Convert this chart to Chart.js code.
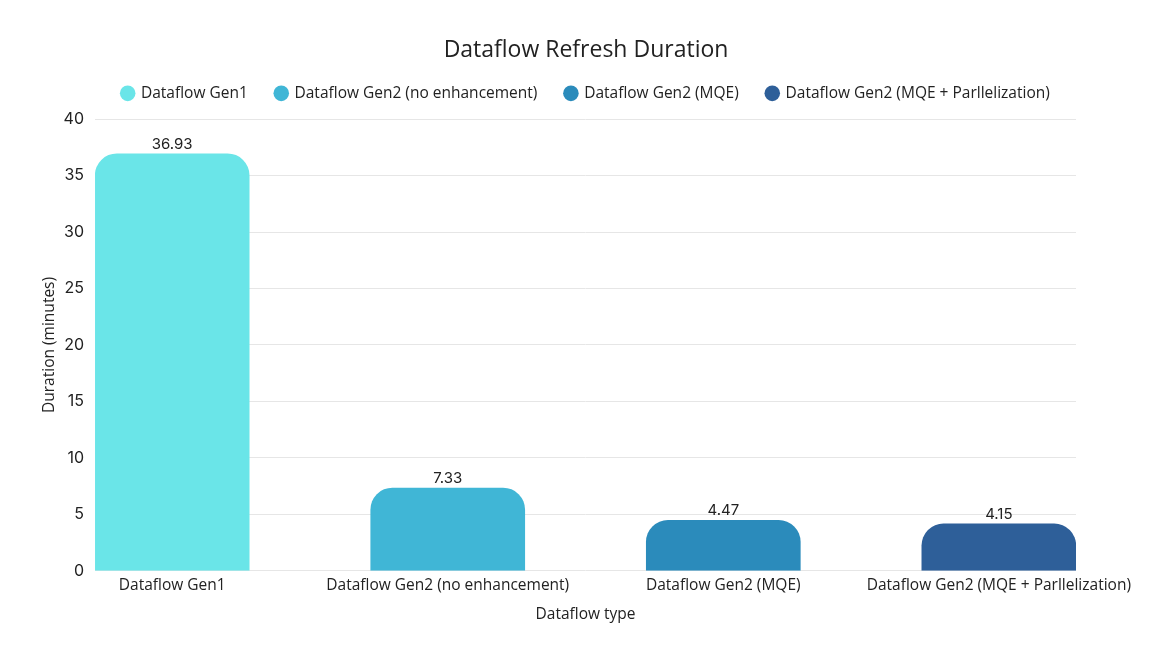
<!DOCTYPE html>
<html>
<head>
<meta charset="utf-8">
<script src="https://cdn.jsdelivr.net/npm/chart.js@4.4.0/dist/chart.umd.min.js"></script>
<style>
  html, body { margin: 0; padding: 0; background: #fff; }
  #wrap { width: 1172px; height: 661px; }
</style>
</head>
<body>
<div id="wrap"><canvas id="myChart"></canvas></div>
<script>
  const labels = [
    'Dataflow Gen1',
    'Dataflow Gen2 (no enhancement)',
    'Dataflow Gen2 (MQE)',
    'Dataflow Gen2 (MQE + Parllelization)',
  ];
  const durations = [36.93, 7.33, 4.47, 4.15];
  const colors = ['#6ae5e8', '#40b6d6', '#2b8bbb', '#2e5f99'];
  const yTicks = [0, 5, 10, 15, 20, 25, 30, 35, 40];

  const textColor = '#222222';
  const font = '"Open Sans", sans-serif';

  // one dataset per bar so the legend gets one entry each
  const datasets = labels.map((l, i) => ({
    label: l,
    data: [{ x: i, y: durations[i] }],
    backgroundColor: colors[i],
    borderRadius: 22,
    barThickness: 154,
    grouped: false,
  }));

  const valueLabels = {
    id: 'valueLabels',
    afterDatasetsDraw(chart) {
      const ctx = chart.ctx;
      ctx.save();
      ctx.font = '15px Inter, sans-serif';
      ctx.fillStyle = textColor;
      ctx.textAlign = 'center';
      ctx.textBaseline = 'bottom';
      chart.data.datasets.forEach((ds, i) => {
        chart.getDatasetMeta(i).data.forEach((bar, j) => {
          ctx.fillText(ds.data[j].y.toFixed(2), bar.x, bar.y - 2);
        });
      });
      ctx.restore();
    }
  };

  // a bit more room under the legend
  const legendGap = {
    id: 'legendGap',
    beforeInit(chart) {
      const fit = chart.legend.fit;
      chart.legend.fit = function () {
        fit.call(this);
        this.height += 8;
      };
    }
  };

  const config = {
    type: 'bar',
    data: { datasets: datasets },
    options: {
      responsive: true,
      maintainAspectRatio: false,
      animation: false,
      layout: { padding: { top: 37, left: 34, right: 34, bottom: 37 } },
      plugins: {
        title: {
          display: true,
          text: 'Dataflow Refresh Duration',
          color: textColor,
          font: { family: font, size: 23, weight: 'normal' },
          padding: { top: 0, bottom: -7 }
        },
        legend: {
          labels: {
            usePointStyle: true,
            pointStyle: 'circle',
            boxWidth: 11,
            boxHeight: 11,
            padding: 28,
            color: textColor,
            font: { family: font, size: 15.5 }
          }
        },
        tooltip: { enabled: false }
      },
      scales: {
        x: {
          type: 'linear',
          min: -0.28,
          max: 3.28,
          offset: false,
          grid: { display: false, drawTicks: false },
          border: { display: false },
          afterBuildTicks: (scale) => {
            scale.ticks = labels.map((l, i) => ({ value: i }));
          },
          // keep the plot's right edge away from the canvas edge
          afterFit: (scale) => {
            scale.paddingRight = 96;
          },
          ticks: {
            autoSkip: false,
            maxRotation: 0,
            color: textColor,
            font: { family: font, size: 15.5 },
            padding: 5,
            callback: (v) => labels[v]
          },
          title: {
            display: true,
            text: 'Dataflow type',
            color: textColor,
            font: { family: font, size: 15.5 },
            padding: { top: 6, bottom: 0 }
          }
        },
        y: {
          min: 0,
          max: 40,
          afterBuildTicks: (scale) => {
            scale.ticks = yTicks.map(v => ({ value: v }));
          },
          grid: { color: '#e6e6e6', drawTicks: false },
          border: { display: false },
          ticks: {
            color: textColor,
            font: { family: 'Inter, sans-serif', size: 16 },
            padding: 11
          },
          title: {
            display: true,
            text: 'Duration (minutes)',
            color: textColor,
            font: { family: font, size: 15.5 },
            padding: { top: 6, bottom: -6 }
          }
        }
      }
    },
    plugins: [valueLabels, legendGap]
  };

  const myChart = new Chart(
    document.getElementById('myChart'),
    config
  );
</script>
</body>
</html>
